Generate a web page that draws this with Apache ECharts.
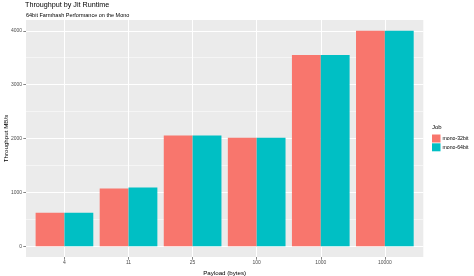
<!DOCTYPE html>
<html>
<head>
<meta charset="utf-8">
<script src="https://cdn.jsdelivr.net/npm/echarts@6/dist/echarts.min.js"></script>
<style>
  html, body { margin: 0; padding: 0; background: #fff; }
  #chart { width: 474px; height: 276px; }
</style>
</head>
<body>
<div id="chart"></div>
<script>
// payload sizes (bytes) on the x axis
const categories = ['4', '11', '25', '100', '1000', '10000'];
// throughput MB/s per jit runtime
const mono32 = [620, 1070, 2055, 2015, 3550, 4000];
const mono64 = [620, 1090, 2055, 2015, 3550, 4000];
const seriesNames = ['mono-32bit', 'mono-64bit'];
// axis ticks
const yTicks = [0, 1000, 2000, 3000, 4000];
const yMinorTicks = [500, 1500, 2500, 3500];

const font = 'Liberation Sans, Arial, sans-serif';
const chart = echarts.init(document.getElementById('chart'));

// panel spans 6 categories plus 0.6 category padding each side (ggplot style)
const panel = { left: 26, right: 50.7, top: 20, bottom: 19 };
const band = (474 - panel.left - panel.right) / 6.2;
const pad = band * 0.6;

chart.setOption({
  animation: false,
  color: ['#F8766D', '#00BFC4'],
  title: [
    {
      text: 'Throughput by Jit Runtime',
      left: 25, top: 2, padding: 0,
      textStyle: { fontFamily: font, fontSize: 7.2, fontWeight: 'normal', color: '#000' },
    },
    {
      text: '64bit Farmhash Performance on the Mono',
      left: 26, top: 12, padding: 0,
      textStyle: { fontFamily: font, fontSize: 5.5, fontWeight: 'normal', color: '#000' },
    },
    {
      text: 'Job',
      left: 432, top: 124.5, padding: 0,
      textStyle: { fontFamily: font, fontSize: 6, fontWeight: 'normal', color: '#000' },
    },
  ],
  // y axis title, rotated, centred on the panel
  graphic: [
    {
      type: 'text',
      x: 6.5, y: 138.5,
      rotation: Math.PI / 2,
      style: {
        text: 'Throughput MB/s',
        font: '6.2px ' + font,
        fill: '#000',
        align: 'center',
        verticalAlign: 'middle',
      },
    },
  ],
  legend: {
    orient: 'vertical',
    left: 432, top: 134.5, padding: 0,
    itemWidth: 8.5, itemHeight: 8, itemGap: 0.8,
    icon: 'rect',
    textStyle: { fontFamily: font, fontSize: 5.2, color: '#000', padding: [0, 0, 0, -3] },
    data: seriesNames,
  },
  grid: [
    {
      // background panel with horizontal grid lines
      left: panel.left, right: panel.right, top: panel.top, bottom: panel.bottom,
      outerBoundsMode: 'none', containLabel: false,
      show: true, backgroundColor: '#EBEBEB', borderWidth: 0,
    },
    {
      // bars: first and last category sit on the grid edges
      left: panel.left + pad, right: panel.right + pad, top: panel.top, bottom: panel.bottom,
      outerBoundsMode: 'none', containLabel: false,
    },
  ],
  xAxis: [
    {
      gridIndex: 0,
      type: 'value',
      min: 0, max: 1,
      show: false,
    },
    {
      gridIndex: 1,
      type: 'category',
      boundaryGap: false,
      data: categories,
      name: 'Payload (bytes)',
      nameLocation: 'middle', nameGap: 7,
      nameTextStyle: { fontFamily: font, fontSize: 6.2, color: '#000' },
      axisLine: { show: false, onZero: false },
      axisTick: { show: true, length: 2.7, lineStyle: { color: '#333', width: 0.6 } },
      axisLabel: { margin: 3, fontFamily: font, fontSize: 5, color: '#4D4D4D' },
      splitLine: { show: true, lineStyle: { color: '#fff', width: 1 } },
    },
  ],
  yAxis: [
    {
      // major grid lines across the whole panel
      gridIndex: 0,
      type: 'value',
      min: -200, max: 4200,
      axisLine: { show: false },
      axisTick: { show: false, customValues: yTicks },
      axisLabel: { show: false, customValues: yTicks },
      splitLine: { show: true, lineStyle: { color: '#fff', width: 1 } },
    },
    {
      // minor grid lines only
      gridIndex: 0,
      type: 'value',
      min: -200, max: 4200,
      axisLine: { show: false },
      axisTick: { show: false, customValues: yMinorTicks },
      axisLabel: { show: false },
      splitLine: { show: true, lineStyle: { color: '#fff', width: 0.5 } },
    },
    {
      // value axis of the bars, drawn at the panel's left edge
      gridIndex: 1,
      type: 'value',
      min: -200, max: 4200,
      offset: pad,
      axisLine: { show: false, onZero: false },
      axisTick: { show: true, length: 2.7, customValues: yTicks, lineStyle: { color: '#333', width: 0.6 } },
      axisLabel: {
        customValues: yTicks, margin: 4, fontFamily: font, fontSize: 5, color: '#4D4D4D',
        formatter: (v) => String(v),
      },
      splitLine: { show: false },
    },
  ],
  series: [
    {
      name: seriesNames[0],
      type: 'bar',
      xAxisIndex: 1, yAxisIndex: 2,
      clip: false,
      barWidth: '45%',
      barGap: '0%',
      data: mono32,
    },
    {
      name: seriesNames[1],
      type: 'bar',
      xAxisIndex: 1, yAxisIndex: 2,
      clip: false,
      barWidth: '45%',
      barGap: '0%',
      data: mono64,
    },
  ],
});
</script>
</body>
</html>
